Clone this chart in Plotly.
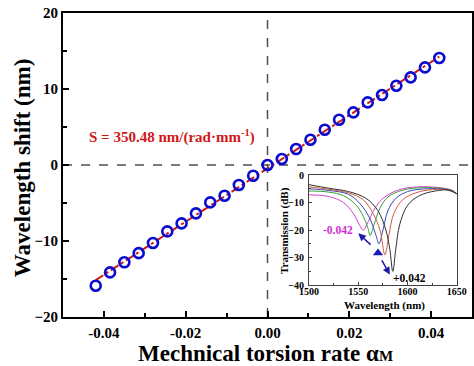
import plotly.graph_objects as go

# ---------------- data ----------------
torsion_rate = [-0.042, -0.0385, -0.035, -0.0315, -0.028, -0.0245, -0.021, -0.0175,
                -0.014, -0.0105, -0.007, -0.0035, 0.0, 0.0035, 0.007, 0.0105, 0.014,
                0.0175, 0.021, 0.0245, 0.028, 0.0315, 0.035, 0.0385, 0.042]
wavelength_shift = [-15.88, -14.13, -12.8, -11.6, -10.26, -8.73, -7.68, -6.36,
                    -4.92, -4.04, -2.63, -1.41, 0.0, 0.79, 2.1, 3.33, 4.64,
                    5.96, 6.93, 8.24, 9.21, 10.43, 11.53, 12.84, 14.08]
fit_x = [-0.042, 0.042]
fit_y = [-15.15, 14.25]

# inset spectra (wavelength nm, transmission dB)
spec_magenta_x = [1500, 1520, 1535, 1545, 1551, 1555, 1560, 1567, 1575, 1590, 1610, 1630, 1645, 1650]
spec_magenta_y = [-7.2, -7.8, -10, -14, -18, -20, -17, -12, -8.5, -5.5, -4.3, -4.5, -5.5, -6.8]
spec_green_x = [1500, 1520, 1535, 1548, 1555, 1560, 1562, 1566, 1572, 1580, 1595, 1615, 1635, 1645, 1650]
spec_green_y = [-5.8, -6.2, -7.5, -11, -15, -19.5, -22, -18, -12, -8, -5.5, -4.6, -4.9, -5.6, -6.8]
spec_blue_x = [1500, 1520, 1540, 1552, 1562, 1568, 1571, 1575, 1580, 1588, 1600, 1620, 1640, 1650]
spec_blue_y = [-5.0, -5.6, -7.0, -10.5, -16, -22, -25, -20, -13, -8.5, -6.0, -5.0, -5.3, -6.8]
spec_red_x = [1500, 1520, 1540, 1555, 1565, 1572, 1577, 1581, 1586, 1595, 1608, 1625, 1640, 1650]
spec_red_y = [-4.3, -5.2, -6.5, -9, -14, -20, -29, -22, -14, -9, -6.5, -5.3, -5.4, -6.8]
spec_black_x = [1500, 1520, 1540, 1558, 1570, 1578, 1582, 1585, 1588, 1592, 1600, 1612, 1628, 1642, 1650]
spec_black_y = [-3.5, -4.8, -6.0, -8.5, -13, -20, -27, -35, -27, -18, -11, -7.5, -5.8, -5.5, -6.8]

x_ticks = [-0.04, -0.02, 0.0, 0.02, 0.04]
x_ticktext = ["-0.04", "-0.02", "0.00", "0.02", "0.04"]
y_ticks = [-20, -10, 0, 10, 20]
inset_x_ticks = [1500, 1550, 1600, 1650]
inset_y_ticks = [0, -10, -20, -30, -40]

FONT = "Liberation Serif"

fig = go.Figure()

# fit line
fig.add_trace(go.Scatter(x=fit_x, y=fit_y, mode="lines",
                         line=dict(color="#d01818", width=2, dash="dashdot"),
                         showlegend=False, xaxis="x", yaxis="y"))
# data points
fig.add_trace(go.Scatter(x=torsion_rate, y=wavelength_shift, mode="markers",
                         marker=dict(symbol="circle-open", size=10, color="#0a0ad0",
                                     line=dict(width=2.6, color="#0a0ad0")),
                         showlegend=False, xaxis="x", yaxis="y"))

# inset spectra
for xs, ys, col in [(spec_magenta_x, spec_magenta_y, "#d040d0"),
                    (spec_green_x, spec_green_y, "#3a9a3a"),
                    (spec_blue_x, spec_blue_y, "#3a4ab8"),
                    (spec_red_x, spec_red_y, "#d05a3a"),
                    (spec_black_x, spec_black_y, "#303030")]:
    fig.add_trace(go.Scatter(x=xs, y=ys, mode="lines",
                             line=dict(color=col, width=1, shape="spline", smoothing=1.0),
                             showlegend=False, xaxis="x2", yaxis="y2"))

# triangle marker in inset
fig.add_trace(go.Scatter(x=[1570], y=[-28.3], mode="markers",
                         marker=dict(symbol="triangle-up", size=9, color="#1a1ab8"),
                         showlegend=False, xaxis="x2", yaxis="y2"))

axis_common = dict(showline=True, mirror=True, linecolor="black", linewidth=2,
                   ticks="inside", ticklen=6, tickwidth=2, tickcolor="black",
                   showgrid=False, zeroline=False, automargin=False)
inset_common = dict(showline=True, mirror=True, linecolor="#404040", linewidth=1,
                    ticks="inside", ticklen=3, tickwidth=1, tickcolor="#404040",
                    showgrid=False, zeroline=False, automargin=False,
                    tickfont=dict(family=FONT, size=10, weight="bold"))

fig.update_layout(
    width=474, height=366,
    margin=dict(l=63, r=2, t=13, b=49, autoexpand=False),
    paper_bgcolor="white", plot_bgcolor="white",
    font=dict(family=FONT, color="black"),
    xaxis=dict(range=[-0.05, 0.05], tickvals=x_ticks, ticktext=x_ticktext,
               minor=dict(dtick=0.01, tick0=0, ticks="inside", ticklen=4, tickwidth=2, tickcolor="black"),
               tickfont=dict(family=FONT, size=15, weight="bold"), ticklabelstandoff=1,
               domain=[0, 1], **axis_common),
    yaxis=dict(range=[-20, 20], tickvals=y_ticks,
               minor=dict(dtick=5, tick0=0, ticks="inside", ticklen=4, tickwidth=2, tickcolor="black"),
               tickfont=dict(family=FONT, size=15, weight="bold"),
               domain=[0, 1], **axis_common),
    xaxis2=dict(anchor="y2", domain=[0.6015, 0.963], range=[1500, 1650], tickvals=inset_x_ticks,
                minor=dict(dtick=25, tick0=1500, ticks="inside", ticklen=2, tickcolor="#404040"),
                ticklabelstandoff=-3, **inset_common),
    yaxis2=dict(anchor="x2", domain=[0.105, 0.467], range=[-40, 0], tickvals=inset_y_ticks,
                minor=dict(dtick=5, tick0=0, ticks="inside", ticklen=2, tickcolor="#404040"),
                ticklabelstandoff=2, **inset_common),
    shapes=[
        dict(type="line", xref="x", yref="y", x0=-0.05, x1=0.05, y0=0, y1=0,
             line=dict(color="#505050", width=1.5, dash="dash"), layer="below"),
        dict(type="line", xref="x", yref="y", x0=0, x1=0, y0=-20, y1=20,
             line=dict(color="#505050", width=1.5, dash="dash"), layer="below"),
    ],
    annotations=[
        # main axis titles
        dict(x=0.494, y=-0.119, xref="paper", yref="paper", showarrow=False,
             text="Mechnical torsion rate α<span style='font-size:15px'>M</span>",
             font=dict(family=FONT, size=23, weight="bold"), xanchor="center", yanchor="middle"),
        dict(x=-0.100, y=0.49, xref="paper", yref="paper", showarrow=False, textangle=-90,
             text="Wavelength shift (nm)",
             font=dict(family=FONT, size=23, weight="bold"), xanchor="center", yanchor="middle"),
        # inset axis titles
        dict(x=0.540, y=0.286, xref="paper", yref="paper", showarrow=False, textangle=-90,
             text="Transmission (dB)",
             font=dict(family=FONT, size=11, weight="bold"), xanchor="center", yanchor="middle"),
        dict(x=0.786, y=0.038, xref="paper", yref="paper", showarrow=False,
             text="Wavelength (nm)",
             font=dict(family=FONT, size=11, weight="bold"), xanchor="center", yanchor="middle"),
        # sensitivity label
        dict(x=-0.0234, y=3.72, xref="x", yref="y", showarrow=False,
             text="S = 350.48 nm/(rad·mm<sup>-1</sup>)",
             font=dict(family=FONT, size=15, color="#d01818", weight="bold")),
        dict(x=1529, y=-20, xref="x2", yref="y2", showarrow=False, text="-0.042",
             font=dict(family=FONT, size=11.5, color="#d030d0", weight="bold")),
        dict(x=1602, y=-37.6, xref="x2", yref="y2", showarrow=False, text="+0.042",
             font=dict(family=FONT, size=11.5, color="black", weight="bold")),
        dict(x=1550, y=-21.2, xref="x2", yref="y2", ax=1564, ay=-25.8, axref="x2", ayref="y2",
             showarrow=True, arrowhead=2, arrowsize=1, arrowwidth=1.5, arrowcolor="#1a1aa8", text=""),
        dict(x=1582, y=-36.2, xref="x2", yref="y2", ax=1573, ay=-30.5, axref="x2", ayref="y2",
             showarrow=True, arrowhead=2, arrowsize=1, arrowwidth=1.5, arrowcolor="#1a1aa8", text=""),
    ],
)

fig.write_html("out.html", config={"displayModeBar": False},
               post_script="document.body.style.margin='0';document.body.style.padding='0';")
